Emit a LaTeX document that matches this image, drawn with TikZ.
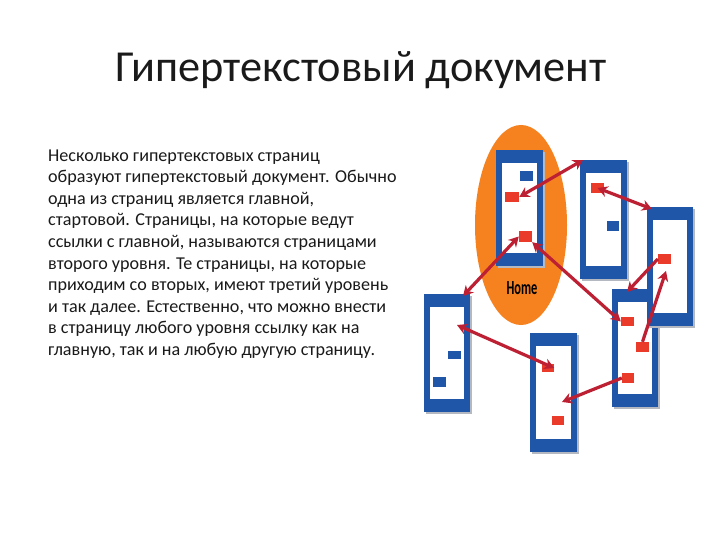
\documentclass[tikz,border=0pt]{standalone}
\usepackage{fontspec}
\setmainfont{Carlito}
\usetikzlibrary{arrows.meta,shapes.geometric}
\definecolor{pgblue}{HTML}{1F56A8}
\definecolor{pgred}{HTML}{EA3A2A}
\definecolor{arrred}{HTML}{BE2033}
\definecolor{pgorange}{HTML}{F5821F}
\definecolor{pggrey}{HTML}{B4B8C0}
\definecolor{txt}{HTML}{1A1A1A}
\tikzset{
  bluebit/.style={fill=pgblue,draw=none},
  redbit/.style={fill=pgred,draw=none},
  link/.style={draw=arrred,line width=3.2pt,{Stealth[length=10pt,width=11pt]}-{Stealth[length=10pt,width=11pt]}},
  onelink/.style={draw=arrred,line width=3.2pt,-{Stealth[length=10pt,width=11pt]}},
  titletext/.style={font=\fontsize{44.3}{44.3}\selectfont,text=txt,inner sep=0pt},
  bodytext/.style={font=\fontsize{18.1}{21.55}\selectfont,text=txt,inner sep=0pt,align=left,anchor=north west}
}
\newcommand{\pagebox}[5]{%
  \fill[pggrey] (#1+2,#2+2) rectangle (#3+2,#4+2);
  \fill[pgblue] (#1,#2) rectangle (#3,#4);
  \fill[white] (#1+6,#2+13) rectangle (#3-6,#4-13);
}
\newcommand{\bitnode}[6]{%
  \node[#1,inner sep=0pt,minimum width=#5pt-#3pt,minimum height=#6pt-#4pt] (#2) at ({(#3+#5)/2},{(#4+#6)/2}) {};
}
\begin{document}
\begin{tikzpicture}[x=1pt,y=-1pt]
\useasboundingbox (0,0) rectangle (720,540);
\fill[white] (0,0) rectangle (720,540);
\node[titletext] (title) at (361,70) {Гипертекстовый документ};
\node[bodytext] (body) at (48,149.5) {Несколько гипертекстовых страниц\\
образуют гипертекстовый документ. Обычно\\
одна из страниц является главной,\\
стартовой. Страницы, на которые ведут\\
ссылки с главной, называются страницами\\
второго уровня. Те страницы, на которые\\
приходим со вторых, имеют третий уровень\\
и так далее. Естественно, что можно внести\\
в страницу любого уровня ссылку как на\\
главную, так и на любую другую страницу.};
\node[ellipse,fill=pgorange,minimum width=92pt,minimum height=200pt,inner sep=0pt] (homeoval) at (521,225) {};
\node[inner sep=0pt,text=black] (hometext) at (522,288) {\scalebox{0.62}[1]{\fontsize{20}{20}\selectfont\bfseries Home}};
\pagebox{496}{150}{543}{266}{}
\bitnode{bluebit}{pa}{520}{171}{533}{181}
\bitnode{redbit}{ra}{505}{192}{519}{202}
\bitnode{redbit}{rb}{519}{231}{532}{242}
\pagebox{580}{160}{627}{279}{}
\bitnode{redbit}{rc}{591}{183}{604}{193}
\bitnode{bluebit}{pb}{607}{221}{619}{231}
\pagebox{612}{289}{658}{407}{}
\bitnode{redbit}{rd}{621}{317}{634}{326}
\bitnode{redbit}{re}{636}{342}{649}{352}
\bitnode{redbit}{rf}{622}{373}{634}{383}
\pagebox{647}{207}{693}{326}{}
\bitnode{redbit}{rg}{658}{254}{671}{264}
\pagebox{424}{294}{470}{412}{}
\bitnode{bluebit}{pc}{448}{351}{461}{359}
\bitnode{bluebit}{pd}{433}{377}{446}{387}
\pagebox{530}{333}{577}{452}{}
\bitnode{redbit}{rh}{542}{364}{554}{372}
\bitnode{redbit}{ri}{552}{416}{564}{425}
\coordinate (topb) at (583,160);
\coordinate (cornerc) at (652,209);
\coordinate (topd) at (627,292);
\coordinate (tope) at (463,296);
\coordinate (free3) at (666,271);
\coordinate (free5) at (457,325);
\coordinate (free6) at (562,402);
\draw[link] (ra.east) -- (topb);
\draw[link] (rc.center) -- (cornerc);
\draw[link] (rb.south east) -- (rd.west);
\draw[link] (rb.west) -- (tope);
\draw[onelink] (rg.west) -- (topd);
\draw[onelink] (re.north) -- (free3);
\draw[link] (rh.east) -- (free5);
\draw[onelink] (rf.west) -- (free6);
\end{tikzpicture}
\end{document}
